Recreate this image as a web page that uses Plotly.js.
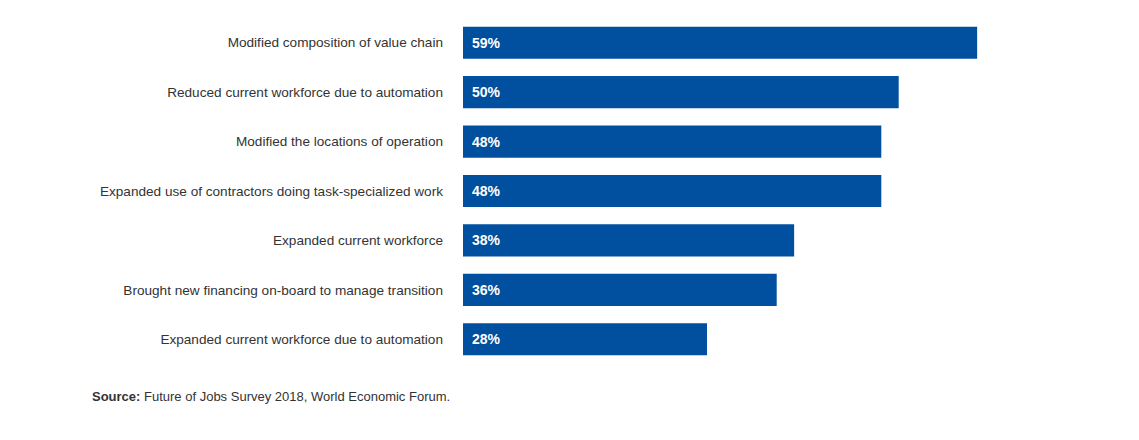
<!DOCTYPE html>
<html>
<head>
<meta charset="utf-8">
<script src="https://cdn.plot.ly/plotly-3.0.1.min.js"></script>
<style>html,body{margin:0;padding:0;background:#fff;}#chart{width:1139px;height:440px;}</style>
</head>
<body>
<div id="chart"></div>
<script>
const categories = [
  "Modified composition of value chain",
  "Reduced current workforce due to automation",
  "Modified the locations of operation",
  "Expanded use of contractors doing task-specialized work",
  "Expanded current workforce",
  "Brought new financing on-board to manage transition",
  "Expanded current workforce due to automation"
];
const values = [59, 50, 48, 48, 38, 36, 28];
const valueLabels = ["59%", "50%", "48%", "48%", "38%", "36%", "28%"];
const sourceText = "<b>Source:</b> Future of Jobs Survey 2018, World Economic Forum.";

const trace = {
  type: "bar",
  orientation: "h",
  x: values,
  y: categories,
  marker: {color: "#00509f"},
  width: 0.65,
  hoverinfo: "none"
};

const annotations = categories.map((c, i) => ({
  x: 0, y: c, xref: "x", yref: "y",
  text: "<b>" + valueLabels[i] + "</b>",
  showarrow: false, xanchor: "left", yanchor: "middle", xshift: 7,
  font: {family: "Liberation Sans, Arial, sans-serif", size: 14, color: "#ffffff"}
}));
annotations.push({
  xref: "paper", yref: "paper", x: -0.611, y: 0, yshift: -32,
  xanchor: "left", yanchor: "middle", showarrow: false,
  text: sourceText,
  font: {family: "Liberation Sans, Arial, sans-serif", size: 13, color: "#333333"}
});

const layout = {
  width: 1139, height: 440,
  margin: {l: 463, r: 66, t: 18, b: 76, pad: 0},
  paper_bgcolor: "#ffffff", plot_bgcolor: "#ffffff",
  showlegend: false,
  xaxis: {range: [0, 70], visible: false, fixedrange: true},
  yaxis: {
    autorange: "reversed", type: "category",
    showgrid: false, zeroline: false, showline: false, ticks: "",
    ticklabelstandoff: 19,
    tickfont: {family: "Liberation Sans, Arial, sans-serif", size: 13.6, color: "#333333"}
  },
  annotations: annotations
};

Plotly.newPlot("chart", [trace], layout, {displayModeBar: false, staticPlot: true});
</script>
</body>
</html>
